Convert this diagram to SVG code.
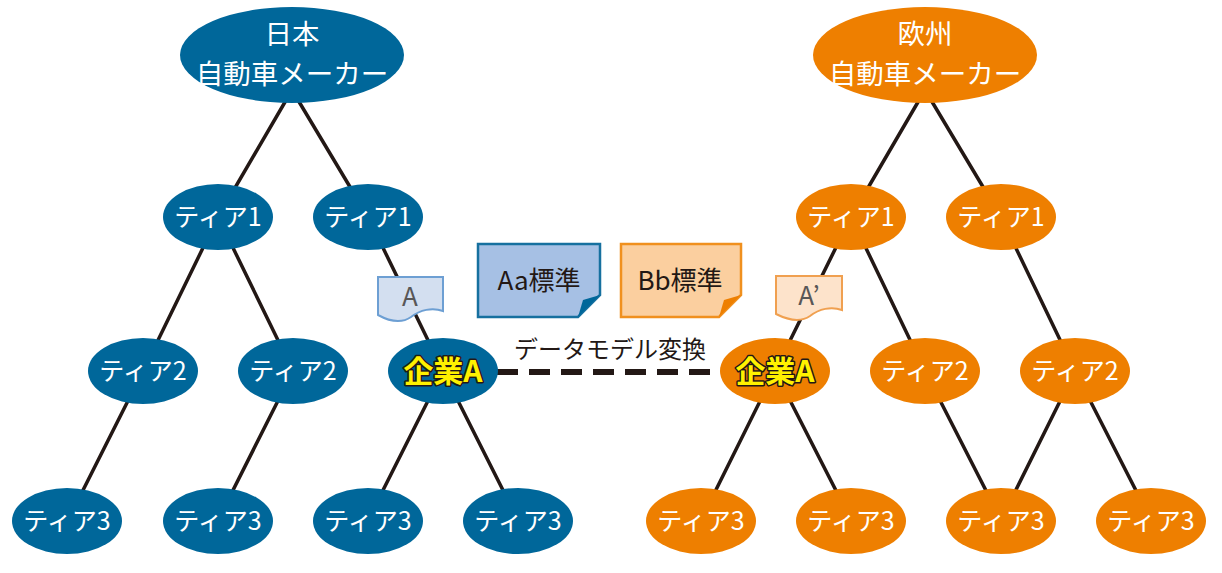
<svg xmlns="http://www.w3.org/2000/svg" width="1222" height="573" viewBox="0 0 1222 573">
<style>
.b{fill:#00679a}
.o{fill:#ee7f00}
.t{font-family:"Noto Sans CJK JP","Liberation Sans",sans-serif;fill:#fff;text-anchor:middle}
.n{font-size:25px}
.r{font-size:27.5px}
.k{font-size:30px;font-weight:bold;fill:#fff100;stroke:#231815;stroke-width:3px;paint-order:stroke;stroke-linejoin:round}
.e{stroke:#231815;stroke-width:3.5;fill:none}
.d{font-family:"Noto Sans CJK JP","Liberation Sans",sans-serif;text-anchor:middle;fill:#231815}
.g{fill:#595757}
</style>
<rect width="1222" height="573" fill="#fff"/>
<g id="connectors">
<path class="e" d="M292,90 L218,217 M292,90 L368,217 M218,217 L143,371 M218,217 L293,371 M368,217 L443,371 M143,371 L68,520 M293,371 L218,520 M443,371 L368,520 M443,371 L518,520"/>
<path class="e" d="M925,90 L851,217 M925,90 L1001,217 M851,217 L775,371 M851,217 L925,371 M1001,217 L1075,371 M775,371 L701,520 M775,371 L851,520 M925,371 L1001,520 M1075,371 L1001,520 M1075,371 L1151,520"/>
<path d="M497,372 H725" stroke="#231815" stroke-width="6" stroke-dasharray="21,11" fill="none"/>
</g>
<g id="jp-root"><ellipse class="b" cx="292" cy="55" rx="112" ry="48"/><text class="t r" x="292" y="44">日本</text><text class="t r" x="292" y="84">自動車メーカー</text></g>
<g id="eu-root"><ellipse class="o" cx="925" cy="55" rx="112" ry="48"/><text class="t r" x="925" y="44">欧州</text><text class="t r" x="925" y="84">自動車メーカー</text></g>
<g id="jp-t1a"><ellipse class="b" cx="218" cy="217" rx="55" ry="33"/><text class="t n" x="218" y="226">ティア1</text></g>
<g id="jp-t1b"><ellipse class="b" cx="368" cy="217" rx="55" ry="33"/><text class="t n" x="368" y="226">ティア1</text></g>
<g id="eu-t1a"><ellipse class="o" cx="851" cy="217" rx="55" ry="33"/><text class="t n" x="851" y="226">ティア1</text></g>
<g id="eu-t1b"><ellipse class="o" cx="1001" cy="217" rx="55" ry="33"/><text class="t n" x="1001" y="226">ティア1</text></g>
<g id="jp-t2a"><ellipse class="b" cx="143" cy="371" rx="55" ry="33"/><text class="t n" x="143" y="380">ティア2</text></g>
<g id="jp-t2b"><ellipse class="b" cx="293" cy="371" rx="55" ry="33"/><text class="t n" x="293" y="380">ティア2</text></g>
<g id="jp-kigyoA"><ellipse class="b" cx="443" cy="371" rx="55" ry="33"/><text class="t k" x="443" y="382">企業A</text></g>
<g id="eu-kigyoA"><ellipse class="o" cx="775" cy="371" rx="55" ry="33"/><text class="t k" x="775" y="382">企業A</text></g>
<g id="eu-t2a"><ellipse class="o" cx="925" cy="371" rx="55" ry="33"/><text class="t n" x="925" y="380">ティア2</text></g>
<g id="eu-t2b"><ellipse class="o" cx="1075" cy="371" rx="55" ry="33"/><text class="t n" x="1075" y="380">ティア2</text></g>
<g id="jp-t3a"><ellipse class="b" cx="67" cy="521" rx="55" ry="33"/><text class="t n" x="67" y="530">ティア3</text></g>
<g id="jp-t3b"><ellipse class="b" cx="218" cy="521" rx="55" ry="33"/><text class="t n" x="218" y="530">ティア3</text></g>
<g id="jp-t3c"><ellipse class="b" cx="368" cy="521" rx="55" ry="33"/><text class="t n" x="368" y="530">ティア3</text></g>
<g id="jp-t3d"><ellipse class="b" cx="518" cy="521" rx="55" ry="33"/><text class="t n" x="518" y="530">ティア3</text></g>
<g id="eu-t3a"><ellipse class="o" cx="701" cy="521" rx="55" ry="33"/><text class="t n" x="701" y="530">ティア3</text></g>
<g id="eu-t3b"><ellipse class="o" cx="851" cy="521" rx="55" ry="33"/><text class="t n" x="851" y="530">ティア3</text></g>
<g id="eu-t3c"><ellipse class="o" cx="1001" cy="521" rx="55" ry="33"/><text class="t n" x="1001" y="530">ティア3</text></g>
<g id="eu-t3d"><ellipse class="o" cx="1151" cy="521" rx="55" ry="33"/><text class="t n" x="1151" y="530">ティア3</text></g>
<g id="doc-A"><path d="M378,277 H443 V311 C432,307 420,310 411,317 C401,324 389,321 378,315 Z" fill="#d3dff0" stroke="#6d9fd3" stroke-width="2"/><text class="d g" x="410" y="306" font-size="26">A</text></g>
<g id="doc-A2"><path d="M776,276 H842 V310 C831,306 819,309 810,316 C800,323 788,320 776,314 Z" fill="#fde3cb" stroke="#f0a050" stroke-width="2"/><text class="d g" x="809" y="305" font-size="26">A’</text></g>
<g id="std-Aa"><path d="M478,244 H600 V295 L578,317 H478 Z" fill="#a6c0e4" stroke="#16709f" stroke-width="2.5"/><path d="M600,295 L578,317 L583,300 Z" fill="#00679a"/><text class="d" x="539" y="290" font-size="26">Aa標準</text></g>
<g id="std-Bb"><path d="M621,244 H741 V295 L719,317 H621 Z" fill="#fbcf9f" stroke="#f0901e" stroke-width="2.5"/><path d="M741,295 L719,317 L724,300 Z" fill="#ee7f00"/><text class="d" x="680" y="290" font-size="26">Bb標準</text></g>
<g id="label"><text class="d" x="610" y="358" font-size="24">データモデル変換</text></g>
</svg>
